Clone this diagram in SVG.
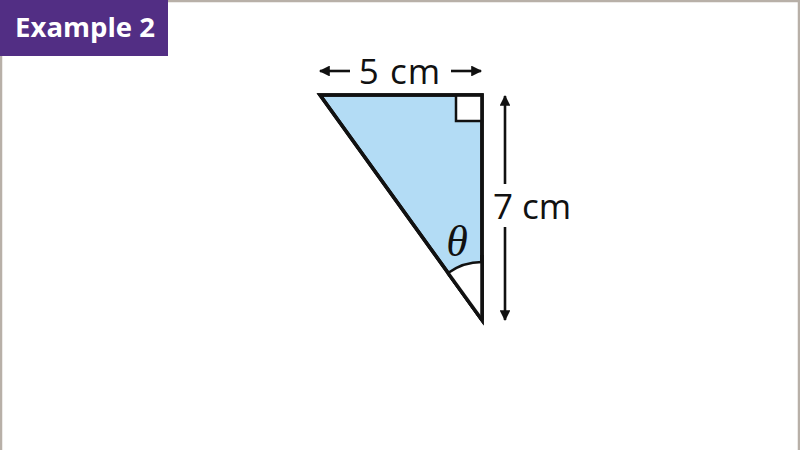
<svg xmlns="http://www.w3.org/2000/svg" width="800" height="450" viewBox="0 0 800 450">
<defs>
<style>
.lbl{font-family:"Open Sans","Liberation Sans",sans-serif;fill:#111;}
.dim{stroke:#111;stroke-width:2.6;fill:none;}
</style>
<marker id="ah" viewBox="0 0 10 10" refX="9" refY="5" markerWidth="4.6" markerHeight="4.2" markerUnits="strokeWidth" orient="auto-start-reverse">
<path d="M0,0 L10,5 L0,10 Z" fill="#111"/>
</marker>
</defs>
<rect x="0" y="0" width="800" height="450" fill="#fff"/>
<path d="M1,450 V1 H799 V450" fill="none" stroke="#b8b0a8" stroke-width="2.5"/>
<g id="header">
<rect x="0" y="0" width="168" height="56" fill="#522e84"/>
<text x="85" y="37" text-anchor="middle" font-family="'Open Sans','Liberation Sans',sans-serif" font-weight="bold" font-size="27.5" fill="#fff">Example 2</text>
</g>
<g id="triangle">
<polygon points="320,95 482,95 482,320" fill="#b3dcf5" stroke="#111" stroke-width="3.5" stroke-linejoin="miter"/>
<rect x="456" y="95" width="26" height="26" fill="#fff" stroke="#111" stroke-width="2.5"/>
<polygon points="320,95 482,95 482,320" fill="none" stroke="#111" stroke-width="3.5" stroke-linejoin="miter"/>
</g>
<g id="angle">
<path d="M482,262 A58,58 0 0 0 448,273 L482,320 Z" fill="#fff"/>
<path d="M482,262 A58,58 0 0 0 448,273" fill="none" stroke="#111" stroke-width="2.5"/>
<line x1="448" y1="273" x2="482" y2="320" stroke="#111" stroke-width="3.5"/>
<line x1="482" y1="255" x2="482" y2="320" stroke="#111" stroke-width="3.5"/>
<text x="457" y="256" text-anchor="middle" font-family="'Liberation Serif',serif" font-style="italic" font-size="44" fill="#111">θ</text>
</g>
<g id="connectors">
<line class="dim" x1="350" y1="71" x2="320" y2="71" marker-end="url(#ah)"/>
<line class="dim" x1="451" y1="71" x2="481" y2="71" marker-end="url(#ah)"/>
<line class="dim" x1="505" y1="184" x2="505" y2="96" marker-end="url(#ah)"/>
<line class="dim" x1="505" y1="227" x2="505" y2="320" marker-end="url(#ah)"/>
</g>
<g id="labels">
<text class="lbl" x="400" y="84" text-anchor="middle" font-size="35" letter-spacing="1">5 cm</text>
<text class="lbl" x="493" y="219" font-size="35">7 cm</text>
</g>
</svg>
